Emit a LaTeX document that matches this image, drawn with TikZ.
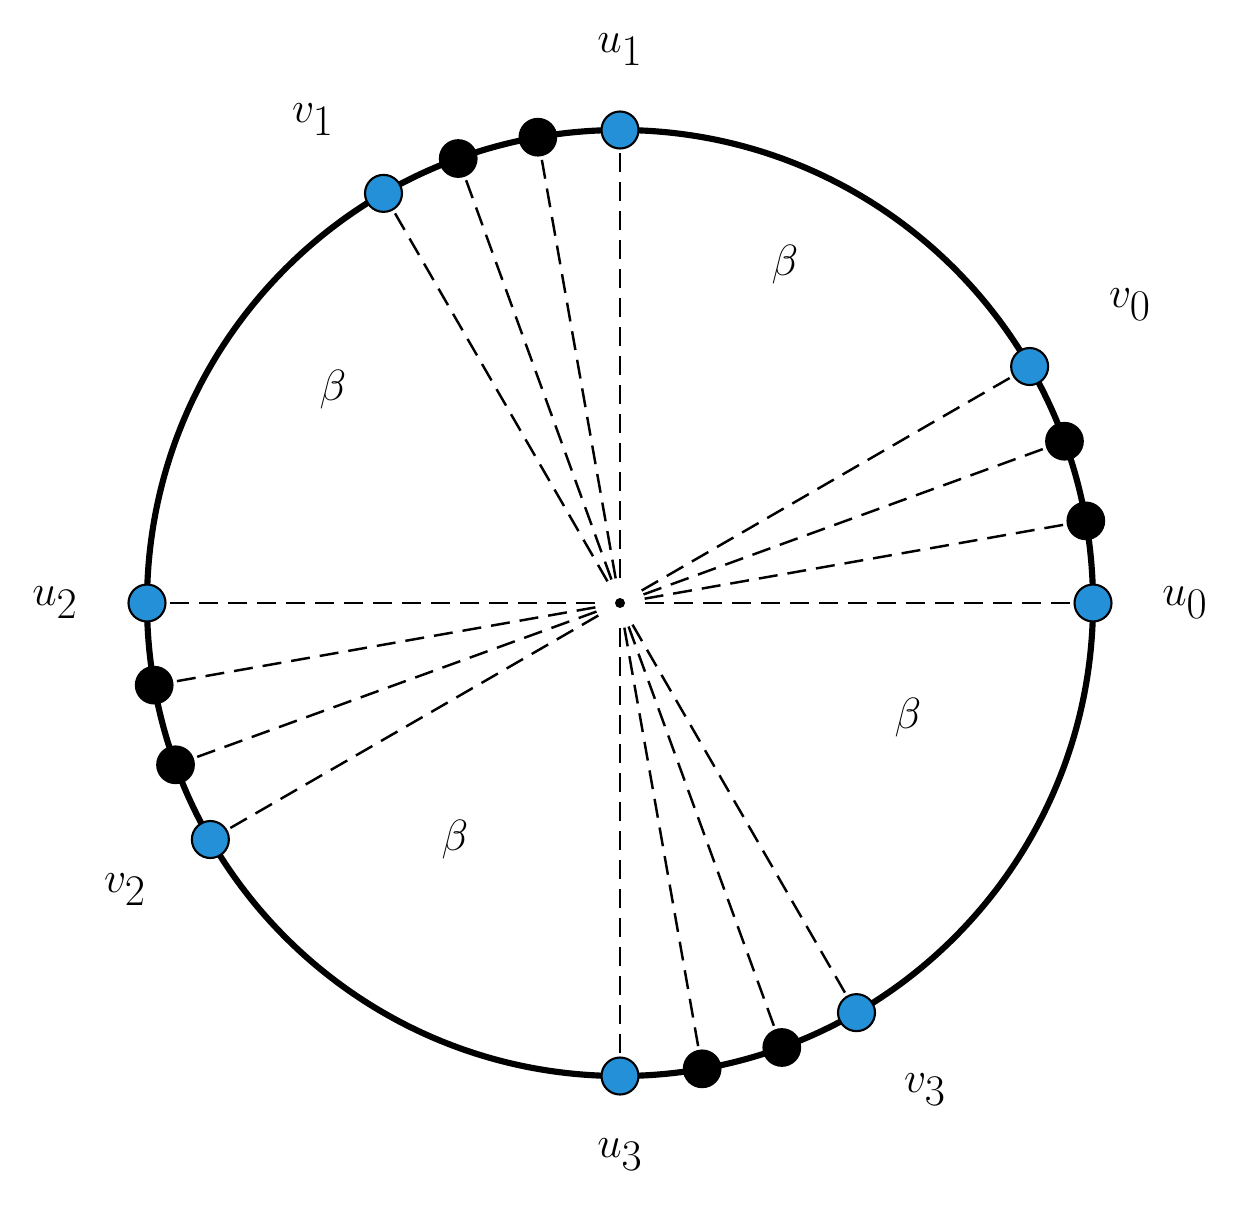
\documentclass[tikz,border=0pt]{standalone}
\usetikzlibrary{calc}
\begin{document}
\begin{tikzpicture}[x=0.02cm,y=-0.02cm,
  bdot/.style={circle,fill=black,draw=black,line width=1pt,minimum size=0.74cm,inner sep=0pt},
  cdot/.style={circle,fill=cyan!70!blue!90,draw=black,line width=1.2pt,minimum size=0.74cm,inner sep=0pt},
  rad/.style={line width=1.4pt,dash pattern=on 0.38cm off 0.2cm},
  lab/.style={font=\fontsize{34}{40}\selectfont}]
\useasboundingbox (0,0) rectangle (1233,1207);
\coordinate (O) at (620,603);
\draw[line width=3.5pt] (O) circle[x radius=473,y radius=473];
\fill (O) circle[radius=5];
\foreach \a/\n/\s in {0/u0/cdot,10/b01/bdot,20/b02/bdot,30/v0/cdot,90/u1/cdot,100/b11/bdot,110/b12/bdot,120/v1/cdot,180/u2/cdot,190/b21/bdot,200/b22/bdot,210/v2/cdot,270/u3/cdot,280/b31/bdot,290/b32/bdot,300/v3/cdot}{
  \coordinate (s\n) at ($(O)+(\a:25 and -25)$);
  \draw[rad] (s\n) -- ($(O)+(\a:473 and -473)$);
  \node[\s] (\n) at ($(O)+(\a:473 and -473)$) {};
}
\node[lab] at (620,50) {$u_1$};
\node[lab] at (313,120) {$v_1$};
\node[lab] at (1130,305) {$v_0$};
\node[lab] at (1185,603) {$u_0$};
\node[lab] at (55,603) {$u_2$};
\node[lab] at (125,890) {$v_2$};
\node[lab] at (925,1090) {$v_3$};
\node[lab] at (620,1155) {$u_3$};
\node[lab] at (785,265) {$\beta$};
\node[lab] at (333,390) {$\beta$};
\node[lab] at (908,718) {$\beta$};
\node[lab] at (455,840) {$\beta$};
\end{tikzpicture}
\end{document}
